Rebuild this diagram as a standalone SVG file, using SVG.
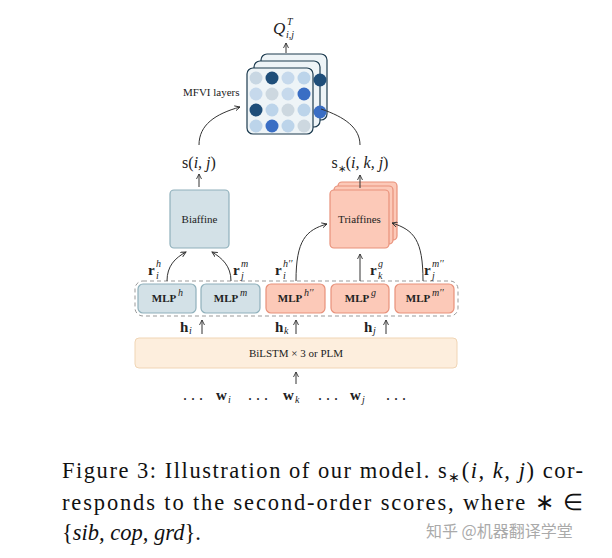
<svg xmlns="http://www.w3.org/2000/svg" width="612" height="558" viewBox="0 0 612 558">
<style>
.m{font-family:"Liberation Serif",serif;font-style:italic;font-size:17px;fill:#222}
.r{font-family:"Liberation Serif",serif;font-size:16px;fill:#222}
.b{font-family:"Liberation Serif",serif;font-weight:bold;font-size:15px;fill:#222}
.mb{font-family:"Liberation Serif",serif;font-weight:bold;font-size:11px;fill:#222}
.s{font-family:"Liberation Serif",serif;font-size:11px;fill:#222}
.i{font-family:"Liberation Serif",serif;font-style:italic;font-size:10px;fill:#222}
.sm{font-size:10px}
.cap{font-family:"Liberation Serif",serif;font-size:22.5px;fill:#111}
.blue{fill:#d3e1e7;stroke:#8fb0bb;stroke-width:1.2}
.red{fill:#fcc9b8;stroke:#e8917a;stroke-width:1.2}
.card{fill:#eef4f7;stroke:#1d3b4f;stroke-width:1.2}
.c path,.c line{fill:none;stroke:#333;stroke-width:1}
</style>
<defs><marker id="a" viewBox="0 0 8 8" refX="7" refY="4" markerWidth="6" markerHeight="6" orient="auto"><path d="M0,0.5 L7,4 L0,7.5" fill="none" stroke="#333" stroke-width="1.2"/></marker></defs>
<rect width="612" height="558" fill="#fff"/>
<g id="mfvi">
<rect class="card" x="261" y="54" width="66" height="66" rx="6"/>
<rect class="card" x="254" y="61" width="66" height="66" rx="6"/>
<circle cx="320" cy="80" r="6.5" fill="#1f4e79"/><circle cx="320" cy="112" r="6.5" fill="#3a6ec4"/>
<rect class="card" x="247" y="68" width="66" height="66" rx="6"/>
<g>
<circle cx="256" cy="78" r="6.5" fill="#c8d7e3"/><circle cx="272" cy="78" r="6.5" fill="#1f4e79"/><circle cx="288" cy="78" r="6.5" fill="#c6d9ec"/><circle cx="304" cy="78" r="6.5" fill="#bcd4ea"/>
<circle cx="256" cy="94" r="6.5" fill="#c6d9ec"/><circle cx="272" cy="94" r="6.5" fill="#cdd8e0"/><circle cx="288" cy="94" r="6.5" fill="#c6d9ec"/><circle cx="304" cy="94" r="6.5" fill="#3a6ec4"/>
<circle cx="256" cy="110" r="6.5" fill="#1f4e79"/><circle cx="272" cy="110" r="6.5" fill="#bcd4ea"/><circle cx="288" cy="110" r="6.5" fill="#cdd8e0"/><circle cx="304" cy="110" r="6.5" fill="#bcd4ea"/>
<circle cx="256" cy="126" r="6.5" fill="#bcd4ea"/><circle cx="272" cy="126" r="6.5" fill="#3a6ec4"/><circle cx="288" cy="126" r="6.5" fill="#bcd4ea"/><circle cx="304" cy="126" r="6.5" fill="#cdd8e0"/>
</g>
<text class="s" x="183" y="96">MFVI layers</text>
<text class="m" x="273" y="34">Q</text><text class="i" x="287" y="25">T</text><text class="i" x="286" y="38">i,j</text>
</g>
<g id="biaffine"><rect class="blue" x="170" y="190" width="59" height="58" rx="4"/><text class="s" x="199.5" y="223" text-anchor="middle">Biaffine</text>
<text class="r" x="199" y="168" text-anchor="middle">s(<tspan font-style="italic">i, j</tspan>)</text></g>
<g id="triaffines"><rect class="red" x="338" y="182" width="59" height="58" rx="4"/><rect class="red" x="334" y="186" width="59" height="58" rx="4"/><rect class="red" x="330" y="190" width="59" height="58" rx="4"/><text class="s" x="359.5" y="223" text-anchor="middle">Triaffines</text>
<text class="r" x="360" y="168" text-anchor="middle">s<tspan class="sm" dy="4">∗</tspan><tspan dy="-4">(</tspan><tspan font-style="italic">i, k, j</tspan>)</text></g>
<g id="mlps">
<rect x="135" y="281" width="323" height="35" rx="8" fill="none" stroke="#999" stroke-dasharray="4,3"/>
<rect class="blue" x="138" y="284" width="58" height="29" rx="5"/><text class="mb" x="164" y="302" text-anchor="middle">MLP</text><text class="i" x="178" y="296" font-size="8">h</text>
<rect class="blue" x="201" y="284" width="59" height="29" rx="5"/><text class="mb" x="226" y="302" text-anchor="middle">MLP</text><text class="i" x="240" y="296" font-size="8">m</text>
<rect class="red" x="266" y="284" width="59" height="29" rx="5"/><text class="mb" x="290" y="302" text-anchor="middle">MLP</text><text class="i" x="304" y="296" font-size="8">h′′</text>
<rect class="red" x="331" y="284" width="58" height="29" rx="5"/><text class="mb" x="357" y="302" text-anchor="middle">MLP</text><text class="i" x="371" y="296" font-size="8">g</text>
<rect class="red" x="395" y="284" width="59" height="29" rx="5"/><text class="mb" x="418" y="302" text-anchor="middle">MLP</text><text class="i" x="432" y="296" font-size="8">m′′</text>
</g>
<g id="rlabels">
<text class="b" x="148" y="275">r</text><text class="i" x="156" y="267">h</text><text class="i" x="156" y="279">i</text>
<text class="b" x="233" y="275">r</text><text class="i" x="241" y="267">m</text><text class="i" x="241" y="279">j</text>
<text class="b" x="275" y="275">r</text><text class="i" x="283" y="267">h′′</text><text class="i" x="283" y="279">i</text>
<text class="b" x="370" y="275">r</text><text class="i" x="378" y="267">g</text><text class="i" x="378" y="279">k</text>
<text class="b" x="424" y="275">r</text><text class="i" x="432" y="267">m′′</text><text class="i" x="432" y="279">j</text>
</g>
<g id="encoder"><rect x="135" y="338" width="322" height="30" rx="4" fill="#fdeedd" stroke="#f0d5b5"/><text class="s" x="296" y="357" text-anchor="middle">BiLSTM × 3 or PLM</text>
<text class="b" x="180" y="332">h</text><text class="i" x="189" y="334">i</text>
<text class="b" x="275" y="332">h</text><text class="i" x="284" y="334">k</text>
<text class="b" x="364" y="332">h</text><text class="i" x="373" y="334">j</text>
<text class="r" x="183" y="400">. . .</text>
<text class="b" x="216" y="400">w</text><text class="i" x="228" y="403">i</text>
<text class="r" x="248" y="400">. . .</text>
<text class="b" x="283" y="400">w</text><text class="i" x="295" y="403">k</text>
<text class="r" x="318" y="400">. . .</text>
<text class="b" x="350" y="400">w</text><text class="i" x="362" y="403">j</text>
<text class="r" x="386" y="400">. . .</text>
</g>
<g class="c" id="connectors">
<line x1="286" y1="53" x2="286" y2="43" marker-end="url(#a)"/>
<path d="M199,145 C199,125 215,114 240,107" marker-end="url(#a)"/>
<path d="M360,145 C360,128 345,117 321,109"/>
<line x1="199" y1="187" x2="199" y2="174" marker-end="url(#a)"/>
<line x1="360" y1="188" x2="360" y2="175" marker-end="url(#a)"/>
<path d="M167,281 C167,266 175,258 186,252" marker-end="url(#a)"/>
<path d="M231,281 C231,266 222,258 212,252" marker-end="url(#a)"/>
<path d="M296,281 C296,240 306,230 327,224" marker-end="url(#a)"/>
<line x1="360" y1="281" x2="360" y2="254" marker-end="url(#a)"/>
<path d="M423,281 C423,240 414,230 392,223" marker-end="url(#a)"/>
<line x1="202" y1="334" x2="202" y2="320" marker-end="url(#a)"/>
<line x1="296" y1="334" x2="296" y2="320" marker-end="url(#a)"/>
<line x1="386" y1="334" x2="386" y2="320" marker-end="url(#a)"/>
<line x1="296" y1="384" x2="296" y2="372" marker-end="url(#a)"/>
</g>
<g id="caption">
<text class="cap" x="62" y="478" textLength="521" lengthAdjust="spacing">Figure 3:  Illustration of our model.  s<tspan font-size="14" dy="4">∗</tspan><tspan dy="-4">(</tspan><tspan font-style="italic">i, k, j</tspan>)  cor-</text>
<text class="cap" x="62" y="510" textLength="521" lengthAdjust="spacing">responds to the second-order scores, where  ∗  ∈</text>
<text class="cap" x="62" y="540">{<tspan font-style="italic">sib, cop, grd</tspan>}.</text>
<text x="426" y="537" font-family="Noto Sans CJK SC,sans-serif" font-size="16" fill="#aaa">知乎 @机器翻译学堂</text>
</g>
</svg>
